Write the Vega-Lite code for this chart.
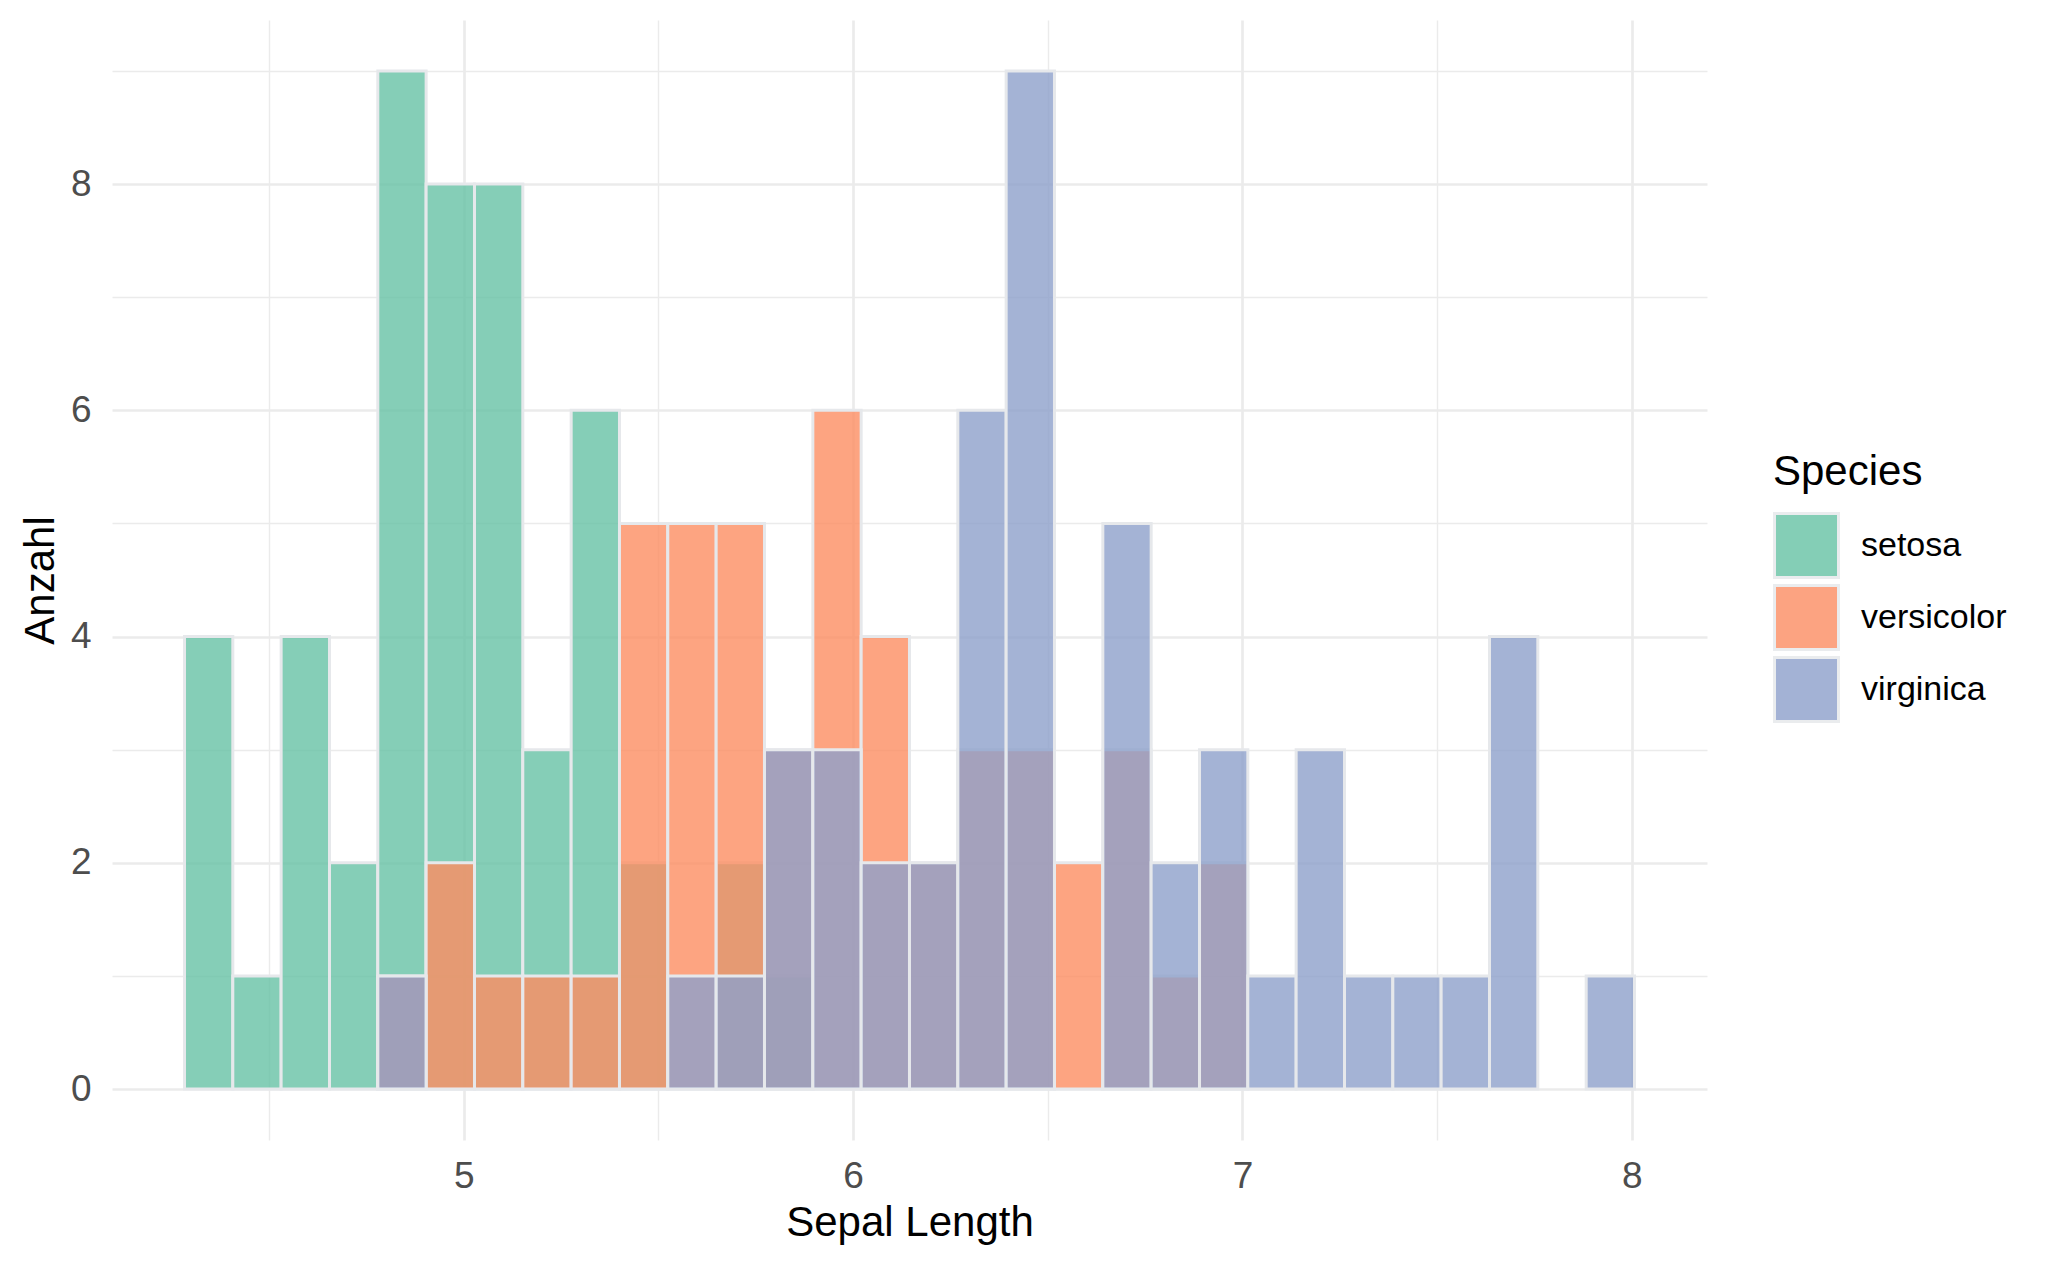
{
  "$schema": "https://vega.github.io/schema/vega-lite/v6.json",
  "width": 1595,
  "height": 1120,
  "autosize": {"type": "none"},
  "padding": {"left": 112, "top": 20, "right": 341, "bottom": 124},
  "background": "white",
  "config": {"view": {"stroke": null}, "font": "Liberation Sans"},
  "data": {
    "values": [
      {"Species": "setosa", "start": 4.2828, "end": 4.4069, "count": 4},
      {"Species": "setosa", "start": 4.4069, "end": 4.5310, "count": 1},
      {"Species": "setosa", "start": 4.5310, "end": 4.6552, "count": 4},
      {"Species": "setosa", "start": 4.6552, "end": 4.7793, "count": 2},
      {"Species": "setosa", "start": 4.7793, "end": 4.9034, "count": 9},
      {"Species": "setosa", "start": 4.9034, "end": 5.0276, "count": 8},
      {"Species": "setosa", "start": 5.0276, "end": 5.1517, "count": 8},
      {"Species": "setosa", "start": 5.1517, "end": 5.2759, "count": 3},
      {"Species": "setosa", "start": 5.2759, "end": 5.4000, "count": 6},
      {"Species": "setosa", "start": 5.4000, "end": 5.5241, "count": 2},
      {"Species": "setosa", "start": 5.6483, "end": 5.7724, "count": 2},
      {"Species": "setosa", "start": 5.7724, "end": 5.8966, "count": 1},
      {"Species": "versicolor", "start": 4.7793, "end": 4.9034, "count": 1},
      {"Species": "versicolor", "start": 4.9034, "end": 5.0276, "count": 2},
      {"Species": "versicolor", "start": 5.0276, "end": 5.1517, "count": 1},
      {"Species": "versicolor", "start": 5.1517, "end": 5.2759, "count": 1},
      {"Species": "versicolor", "start": 5.2759, "end": 5.4000, "count": 1},
      {"Species": "versicolor", "start": 5.4000, "end": 5.5241, "count": 5},
      {"Species": "versicolor", "start": 5.5241, "end": 5.6483, "count": 5},
      {"Species": "versicolor", "start": 5.6483, "end": 5.7724, "count": 5},
      {"Species": "versicolor", "start": 5.7724, "end": 5.8966, "count": 3},
      {"Species": "versicolor", "start": 5.8966, "end": 6.0207, "count": 6},
      {"Species": "versicolor", "start": 6.0207, "end": 6.1448, "count": 4},
      {"Species": "versicolor", "start": 6.1448, "end": 6.2690, "count": 2},
      {"Species": "versicolor", "start": 6.2690, "end": 6.3931, "count": 3},
      {"Species": "versicolor", "start": 6.3931, "end": 6.5172, "count": 3},
      {"Species": "versicolor", "start": 6.5172, "end": 6.6414, "count": 2},
      {"Species": "versicolor", "start": 6.6414, "end": 6.7655, "count": 3},
      {"Species": "versicolor", "start": 6.7655, "end": 6.8897, "count": 1},
      {"Species": "versicolor", "start": 6.8897, "end": 7.0138, "count": 2},
      {"Species": "virginica", "start": 4.7793, "end": 4.9034, "count": 1},
      {"Species": "virginica", "start": 5.5241, "end": 5.6483, "count": 1},
      {"Species": "virginica", "start": 5.6483, "end": 5.7724, "count": 1},
      {"Species": "virginica", "start": 5.7724, "end": 5.8966, "count": 3},
      {"Species": "virginica", "start": 5.8966, "end": 6.0207, "count": 3},
      {"Species": "virginica", "start": 6.0207, "end": 6.1448, "count": 2},
      {"Species": "virginica", "start": 6.1448, "end": 6.2690, "count": 2},
      {"Species": "virginica", "start": 6.2690, "end": 6.3931, "count": 6},
      {"Species": "virginica", "start": 6.3931, "end": 6.5172, "count": 9},
      {"Species": "virginica", "start": 6.6414, "end": 6.7655, "count": 5},
      {"Species": "virginica", "start": 6.7655, "end": 6.8897, "count": 2},
      {"Species": "virginica", "start": 6.8897, "end": 7.0138, "count": 3},
      {"Species": "virginica", "start": 7.0138, "end": 7.1379, "count": 1},
      {"Species": "virginica", "start": 7.1379, "end": 7.2621, "count": 3},
      {"Species": "virginica", "start": 7.2621, "end": 7.3862, "count": 1},
      {"Species": "virginica", "start": 7.3862, "end": 7.5103, "count": 1},
      {"Species": "virginica", "start": 7.5103, "end": 7.6345, "count": 1},
      {"Species": "virginica", "start": 7.6345, "end": 7.7586, "count": 4},
      {"Species": "virginica", "start": 7.8828, "end": 8.0069, "count": 1}
    ]
  },
  "mark": {
    "type": "bar",
    "fillOpacity": 0.8,
    "stroke": "#E6E8EB",
    "strokeWidth": 3,
    "strokeOpacity": 1
  },
  "encoding": {
    "x": {
      "field": "start",
      "type": "quantitative",
      "scale": {"domain": [4.0966, 8.1931], "nice": false, "zero": false},
      "axis": {
        "values": [4.5, 5, 5.5, 6, 6.5, 7, 7.5, 8],
        "labelExpr": "datum.value % 1 === 0 ? '' + datum.value : ''",
        "gridColor": "#EBEBEB",
        "gridWidth": {"condition": {"test": "datum.value % 1 === 0", "value": 2.7}, "value": 1.4},
        "domain": false,
        "ticks": false,
        "tickSize": 0,
        "labelPadding": 47,
        "labelBaseline": "alphabetic",
        "labelFontSize": 37,
        "labelColor": "#4D4D4D",
        "labelFlush": false,
        "labelOverlap": false,
        "title": "Sepal Length",
        "titleFontSize": 42,
        "titleFontWeight": "normal",
        "titleColor": "#000000",
        "titleBaseline": "alphabetic",
        "titleY": 95
      }
    },
    "x2": {"field": "end"},
    "y": {
      "field": "count",
      "type": "quantitative",
      "stack": null,
      "scale": {"domain": [-0.45, 9.45], "nice": false, "zero": false},
      "axis": {
        "values": [0, 1, 2, 3, 4, 5, 6, 7, 8, 9],
        "labelExpr": "datum.value % 2 === 0 ? '' + datum.value : ''",
        "gridColor": "#EBEBEB",
        "gridWidth": {"condition": {"test": "datum.value % 2 === 0", "value": 2.7}, "value": 1.4},
        "domain": false,
        "ticks": false,
        "tickSize": 0,
        "labelPadding": 21,
        "labelFontSize": 37,
        "labelColor": "#4D4D4D",
        "labelFlush": false,
        "labelOverlap": false,
        "title": "Anzahl",
        "titleFontSize": 42,
        "titleFontWeight": "normal",
        "titleColor": "#000000",
        "titleBaseline": "alphabetic",
        "titleX": -59,
        "titleY": 560
      }
    },
    "y2": {"datum": 0},
    "color": {
      "field": "Species",
      "type": "nominal",
      "scale": {
        "domain": ["setosa", "versicolor", "virginica"],
        "range": ["#66C2A5", "#FC8D62", "#8DA0CB"]
      },
      "legend": {
        "orient": "none",
        "legendX": 1661,
        "legendY": 432,
        "padding": 0,
        "title": "Species",
        "titleFontSize": 42,
        "titleFontWeight": "normal",
        "titleColor": "#000000",
        "titlePadding": 18,
        "labelFontSize": 34,
        "labelColor": "#000000",
        "labelOffset": 21,
        "symbolType": "square",
        "symbolSize": 4096,
        "symbolStrokeColor": "#E6E8EB",
        "symbolStrokeWidth": 3,
        "symbolOpacity": 0.8,
        "rowPadding": -30
      }
    }
  }
}
